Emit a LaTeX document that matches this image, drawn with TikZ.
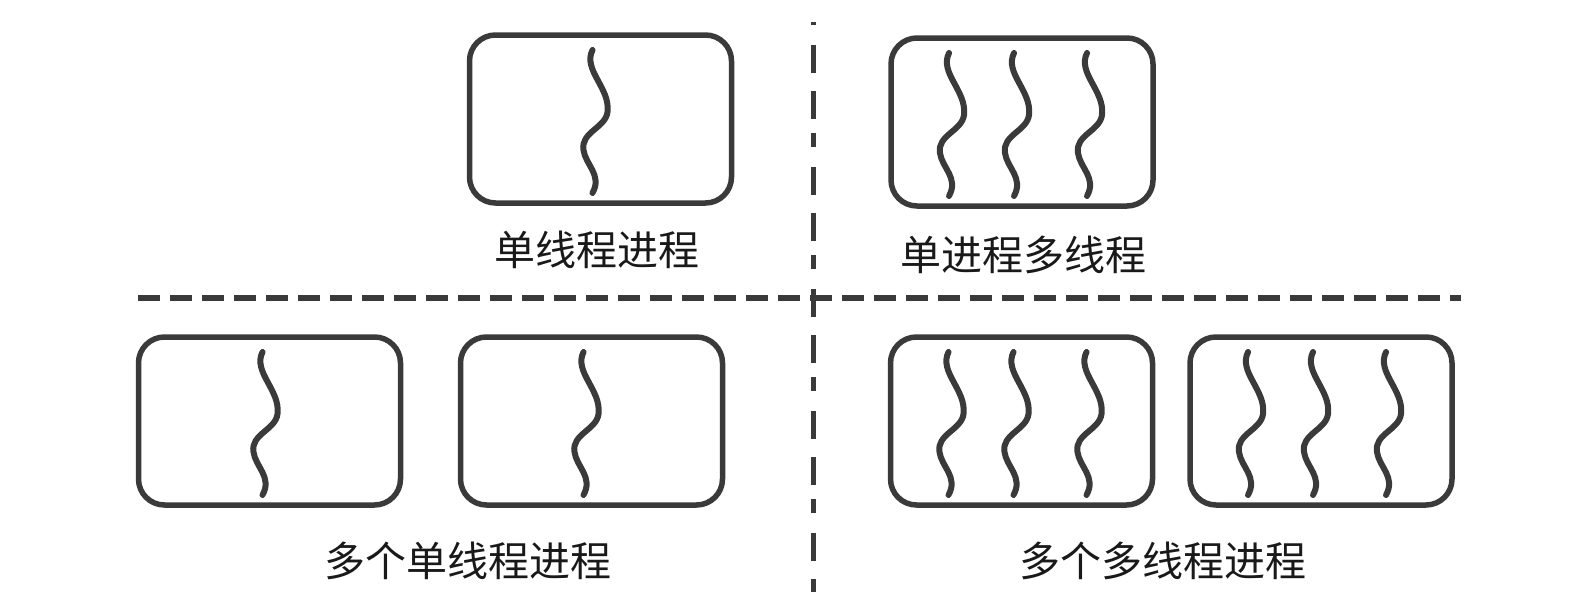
\documentclass[tikz,border=0pt]{standalone}
\usepackage{fontspec}
\usepackage{xcolor}
\usepackage{tikz}
\usetikzlibrary{calc}
\newfontfamily\cjk{Noto Sans CJK SC}
\definecolor{borda}{HTML}{3A3A3A}

% one thread: a wavy line hanging from the top of a process box
\newcommand{\xiancheng}[2]{%
  \begin{scope}[shift={($(#1.north west)+(#2,15)$)}]
    \draw[xian] (0,0) .. controls (-10,20) and (18,38) .. (15,62)
      .. controls (13,78) and (-12,82) .. (-9,100)
      .. controls (-7,115) and (10,125) .. (0,143);
  \end{scope}}

\begin{document}
\begin{tikzpicture}[x=1pt, y=-1pt,
        every node/.style={align=center},
        jincheng/.style={draw=borda, line width=5.5pt, rounded corners=26pt, minimum width=262pt, minimum height=168pt, inner sep=0pt, outer sep=0pt},
        xian/.style={borda, line width=6pt, line cap=round},
        biaoti/.style={font=\cjk\fontsize{41}{45}\selectfont, text=black!90},
        fengeh/.style={borda, line width=6pt, dash pattern=on 22pt off 10pt},
        fengev/.style={borda, line width=5pt, dash pattern=on 28pt off 18pt on 28pt off 14pt on 14pt off 20pt, dash phase=99pt}
    ]
        \useasboundingbox (0,0) rectangle (1584,597);
        % dividers
        \coordinate (h1) at (138,298);
        \coordinate (h2) at (1461,298);
        \coordinate (v1) at (813,22);
        \coordinate (v2) at (813,592);
        \draw[fengeh] (h1) -- (h2);
        \draw[fengev] (v1) -- (v2);
        % processes
        \node[jincheng] (p1) at (600.5,119) {};
        \node[jincheng] (p2) at (1022,122) {};
        \node[jincheng] (p3) at (269.5,421) {};
        \node[jincheng] (p4) at (591.5,421) {};
        \node[jincheng] (p5) at (1021.5,421) {};
        \node[jincheng] (p6) at (1321,421) {};
        % threads
        \xiancheng{p1}{123}
        \xiancheng{p3}{124}
        \xiancheng{p4}{123}
        \foreach \p in {p2,p5,p6}{
            \xiancheng{\p}{58}
            \xiancheng{\p}{123}
            \xiancheng{\p}{196}
        }
        % labels
        \node[biaoti] (t1) at (597,250) {单线程进程};
        \node[biaoti] (t2) at (1023,255) {单进程多线程};
        \node[biaoti] (t3) at (468,561) {多个单线程进程};
        \node[biaoti] (t4) at (1163,561) {多个多线程进程};
    \end{tikzpicture}
\end{document}
